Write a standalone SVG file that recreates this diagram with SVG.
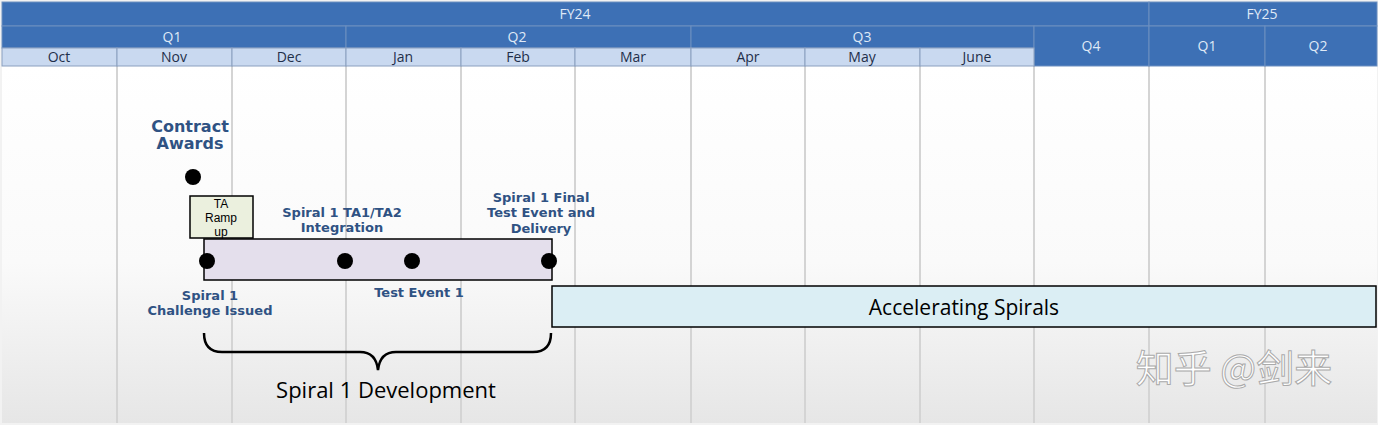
<svg xmlns="http://www.w3.org/2000/svg" width="1378" height="425" viewBox="0 0 1378 425">
<defs>
<linearGradient id="bg" x1="0" y1="0" x2="0" y2="1"><stop offset="0" stop-color="#ffffff"/><stop offset="0.55" stop-color="#fafafa"/><stop offset="1" stop-color="#e6e6e6"/></linearGradient>
<style>
.hd{fill:#3d70b5;stroke:#6c8fc0;stroke-width:1}
.mo{fill:#c9d9f0;stroke:#8a9fbf;stroke-width:1}
.ht{font-family:"Open Sans","Liberation Sans",sans-serif;font-size:14px;fill:#dfe9f7;text-anchor:middle}
.mt{font-family:"Open Sans","Liberation Sans",sans-serif;font-size:14px;fill:#1f2f4a;text-anchor:middle}
.gl{stroke:#d4d4d4;stroke-width:2}
.lb{font-family:Verdana,"DejaVu Sans",sans-serif;font-weight:bold;font-size:13px;fill:#2f5283;text-anchor:middle}
.dot{fill:#000}
</style>
</defs>
<rect x="0" y="0" width="1378" height="425" fill="#f2f2f2"/>
<rect x="2" y="66" width="1375" height="357" fill="url(#bg)"/>
<g id="grid">
<line class="gl" x1="117" y1="66" x2="117" y2="423"/><line class="gl" x1="232" y1="66" x2="232" y2="423"/><line class="gl" x1="346" y1="66" x2="346" y2="423"/><line class="gl" x1="461" y1="66" x2="461" y2="423"/><line class="gl" x1="575" y1="66" x2="575" y2="423"/><line class="gl" x1="691" y1="66" x2="691" y2="423"/><line class="gl" x1="805" y1="66" x2="805" y2="423"/><line class="gl" x1="920" y1="66" x2="920" y2="423"/><line class="gl" x1="1034" y1="66" x2="1034" y2="423"/><line class="gl" x1="1149" y1="66" x2="1149" y2="423"/><line class="gl" x1="1265" y1="66" x2="1265" y2="423"/>
</g>
<g id="header">
<rect class="hd" x="2" y="2" width="1147" height="24"/><text class="ht" x="575" y="19">FY24</text>
<rect class="hd" x="1149" y="2" width="228" height="24"/><text class="ht" x="1262" y="19">FY25</text>
<rect class="hd" x="2" y="26" width="344" height="22"/><text class="ht" x="172" y="42">Q1</text>
<rect class="hd" x="346" y="26" width="345" height="22"/><text class="ht" x="517" y="42">Q2</text>
<rect class="hd" x="691" y="26" width="343" height="22"/><text class="ht" x="862" y="42">Q3</text>
<rect class="hd" x="1034" y="26" width="115" height="40"/><text class="ht" x="1091" y="51">Q4</text>
<rect class="hd" x="1149" y="26" width="116" height="40"/><text class="ht" x="1207" y="51">Q1</text>
<rect class="hd" x="1265" y="26" width="112" height="40"/><text class="ht" x="1318" y="51">Q2</text>
<rect class="mo" x="2" y="48" width="115" height="18"/><text class="mt" x="59" y="62">Oct</text>
<rect class="mo" x="117" y="48" width="115" height="18"/><text class="mt" x="174" y="62">Nov</text>
<rect class="mo" x="232" y="48" width="114" height="18"/><text class="mt" x="289" y="62">Dec</text>
<rect class="mo" x="346" y="48" width="115" height="18"/><text class="mt" x="403" y="62">Jan</text>
<rect class="mo" x="461" y="48" width="114" height="18"/><text class="mt" x="518" y="62">Feb</text>
<rect class="mo" x="575" y="48" width="116" height="18"/><text class="mt" x="633" y="62">Mar</text>
<rect class="mo" x="691" y="48" width="114" height="18"/><text class="mt" x="748" y="62">Apr</text>
<rect class="mo" x="805" y="48" width="115" height="18"/><text class="mt" x="862" y="62">May</text>
<rect class="mo" x="920" y="48" width="114" height="18"/><text class="mt" x="977" y="62">June</text>
</g>
<g id="spiral1-bar"><rect x="204" y="239" width="348" height="41" fill="#e4dfec" stroke="#000" stroke-width="1.5"/></g>
<g id="ta-ramp"><rect x="190" y="196" width="63" height="42" fill="#ebf0de" stroke="#000" stroke-width="1.5"/>
<text font-family="Liberation Sans,sans-serif" font-size="12" text-anchor="middle" fill="#000"><tspan x="221" y="208">TA</tspan><tspan x="221" y="222">Ramp</tspan><tspan x="221" y="236">up</tspan></text></g>
<g id="accel"><rect x="552" y="286" width="824" height="41" fill="#dbeef4" stroke="#000" stroke-width="1.5"/>
<text x="964" y="315" font-family="Open Sans,Liberation Sans,sans-serif" font-size="21" text-anchor="middle" fill="#000">Accelerating Spirals</text></g>
<g id="milestones">
<circle class="dot" cx="193" cy="177" r="8"/>
<circle class="dot" cx="207" cy="261" r="8"/>
<circle class="dot" cx="345" cy="261" r="8"/>
<circle class="dot" cx="412" cy="261" r="8"/>
<circle class="dot" cx="549" cy="261" r="8"/>
</g>
<g id="labels">
<text class="lb" style="font-size:16px"><tspan x="190" y="132">Contract</tspan><tspan x="190" y="149">Awards</tspan></text>
<text class="lb"><tspan x="342" y="217">Spiral 1 TA1/TA2</tspan><tspan x="342" y="232">Integration</tspan></text>
<text class="lb"><tspan x="541" y="202">Spiral 1 Final</tspan><tspan x="541" y="217">Test Event and</tspan><tspan x="541" y="233">Delivery</tspan></text>
<text class="lb"><tspan x="210" y="300">Spiral 1</tspan><tspan x="210" y="315">Challenge Issued</tspan></text>
<text class="lb" x="419" y="297">Test Event 1</text>
</g>
<g id="connectors">
<path d="M204,333 Q204,352 222,352 L360,352 Q376,352 378,370 Q380,352 396,352 L533,352 Q551,352 551,333" fill="none" stroke="#000" stroke-width="2.5"/>
</g>
<text x="386" y="398" font-family="Open Sans,Liberation Sans,sans-serif" font-size="22" text-anchor="middle" fill="#000">Spiral 1 Development</text>
<text x="1234" y="382" font-family="Noto Sans CJK SC,sans-serif" font-size="38" text-anchor="middle" fill="#fff" stroke="#aaa" stroke-width="1">知乎 @剑来</text>
</svg>
